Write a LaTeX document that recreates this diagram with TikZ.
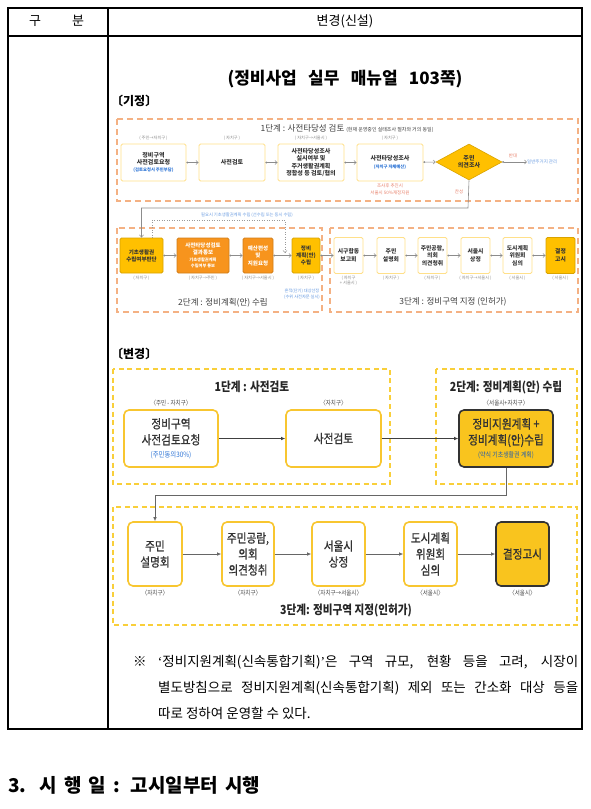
\documentclass[tikz,border=0pt]{standalone}
\usepackage{fontspec}
\setmainfont{Noto Sans CJK KR}
\newfontfamily\krc[FakeStretch=0.85]{Noto Sans CJK KR}
\newfontfamily\krcm[FakeStretch=0.85,FakeBold=0.9]{Noto Sans CJK KR}
\newfontfamily\latin{Liberation Serif}
\usetikzlibrary{shapes.geometric,arrows.meta,calc}
\definecolor{oldDash}{HTML}{F4B183}
\definecolor{oldBorder}{HTML}{FFE08A}
\definecolor{gold}{HTML}{FFC000}
\definecolor{orng}{HTML}{F7941D}
\definecolor{newDash}{HTML}{F9CF3A}
\definecolor{newBorder}{HTML}{F8C630}
\definecolor{newFill}{HTML}{F9C41E}
\definecolor{noteBlue}{HTML}{2E75D6}
\definecolor{labGray}{HTML}{8C8C8C}
\definecolor{redlab}{HTML}{E8806A}
\newcommand\fs[2]{\fontsize{#1}{#2}\selectfont}
\tikzset{
  oldstage/.style={draw=oldDash, line width=1.2pt, dash pattern=on 6pt off 4pt},
  obox/.style={draw=oldBorder, line width=0.9pt, rounded corners=1.5pt, fill=white, align=center, inner sep=0pt, font=\fs{6}{7.2}\bfseries, text=black!80},
  ofill/.style={obox, draw=#1!85!black, fill=#1},
  olab/.style={font=\fs{4.2}{5.2}, text=labGray, inner sep=0pt, align=center},
  ostagelab/.style={font=\fs{8.5}{10}, text=black!75, inner sep=0pt},
  oarr/.style={draw=black!45, line width=0.5pt, {Circle[length=1.8pt]}-{Straight Barb[length=2.2pt,width=4pt]}},
  newstage/.style={draw=newDash, line width=1.1pt, dash pattern=on 5pt off 3.5pt},
  nbox/.style={draw=newBorder, line width=1.6pt, rounded corners=5pt, fill=white, align=center, inner sep=0pt, font=\krcm\fs{12.5}{16}, text=black!80},
  nfill/.style={nbox, draw=black!80, fill=newFill},
  nlab/.style={font=\krc\fs{6.5}{8}, text=black!70, inner sep=0pt},
  ntitle/.style={font=\krc\bfseries\fs{12.5}{14}, text=black!85, inner sep=0pt},
  narr/.style={draw=black!75, line width=0.7pt, -{Latex[length=4pt,width=3.5pt]}},
  plain/.style={inner sep=0pt}
}
\begin{document}
\begin{tikzpicture}[x=1pt,y=-1pt]
\useasboundingbox[fill=white] (0,0) rectangle (590,809);

% ---------- table ----------
\draw[line width=1.1pt] (8,8) rectangle (582,729);
\draw[line width=1.1pt] (8,36) -- (582,36);
\draw[line width=1.1pt] (108,8) -- (108,729);
\node[plain, font=\fs{13}{15}] (h1) at (35,21) {구};
\node[plain, font=\fs{13}{15}] (h2) at (78,21) {분};
\node[plain, font=\fs{13}{15}] (h3) at (345,21) {변경(신설)};

\node[plain, font=\bfseries\fs{17}{19}] (title) at (345,79) {\makebox[235pt][s]{(정비사업 실무 매뉴얼 103쪽)}};
\node[plain, anchor=west, font=\bfseries\fs{12}{14}] (kj) at (111,101) {〔기정〕};

% ---------- old diagram: stage 1 ----------
\draw[oldstage] (117,119) rectangle (578,201);
\node[ostagelab] (s1) at (347,128) {1단계 : 사전타당성 검토 {\fs{5}{6}(현재 운영중인 실태조사 절차와 거의 동일)}};

\node[obox, minimum width=65pt, minimum height=37pt] (o1) at (153.5,162.5) {정비구역\\사전검토요청\\{\fs{4.3}{5.5}\color{noteBlue}(검토요청시 주민부담)}};
\node[obox, minimum width=66pt, minimum height=37pt] (o2) at (232,162.5) {사전검토};
\node[obox, minimum width=66pt, minimum height=37pt] (o3) at (311,162.5) {사전타당성조사\\실시여부 및\\주거생활권계획\\정합성 등 검토/협의};
\node[obox, minimum width=66pt, minimum height=37pt] (o4) at (390,162.5) {사전타당성조사\\{\fs{4.3}{5.5}\color{noteBlue}(자치구 자체예산)}};
\node[diamond, aspect=1.8, fill=gold, draw=gold!85!black, line width=0.6pt, minimum width=66pt, minimum height=36pt, inner sep=0pt, align=center, font=\fs{6}{7.2}\bfseries, text=black!80] (o5) at (469,162) {주민\\의견조사};
\node[plain, anchor=west, font=\fs{4.5}{5.5}, text=noteBlue!70] (o6) at (527,162) {일반주거지 관리};

\node[olab] (l1) at (153.5,138) {( 주민→자치구 )};
\node[olab] (l2) at (232,138) {( 자치구 )};
\node[olab] (l3) at (311,138) {( 자치구→서울시 )};
\node[olab] (l4) at (390,138) {( 자치구 )};
\node[olab, text=redlab, font=\fs{4.5}{7}] (l5) at (390,189.5) {조사후 추진시\\서울시 50\%재정지원};
\node[olab, text=redlab, font=\fs{4.5}{5.5}] (l6) at (513,156) {반대};
\node[olab, text=redlab, font=\fs{4.5}{5.5}] (l7) at (459,192) {찬성};

\draw[oarr] (o1) -- (o2);
\draw[oarr] (o2) -- (o3);
\draw[oarr] (o3) -- (o4);
\draw[oarr] (o4) -- (o5.west);
\draw[oarr] (o5.east) -- (o6.west);

% ---------- old diagram: stage 2 ----------
\draw[oldstage] (117,228) rectangle (322,312);
\node[ostagelab] (s2) at (223,303) {2단계 : 정비계획(안) 수립};

\node[ofill=gold, minimum width=43pt, minimum height=35pt, font=\fs{5.5}{7}\bfseries] (p1) at (141.5,255.5) {기초생활권\\수립여부판단};
\node[ofill=orng, minimum width=52pt, minimum height=35pt, font=\fs{5.5}{6.8}\bfseries, text=white] (p2) at (203,255.5) {사전타당성검토\\결과통보\\{\fs{4.2}{5.2}기초생활권계획}\\{\fs{4.2}{5.2}수립여부 통보}};
\node[ofill=orng, minimum width=30pt, minimum height=35pt, font=\fs{5.5}{7.5}\bfseries, text=white] (p3) at (258,255.5) {예산편성\\및\\지원요청};
\node[ofill=gold, minimum width=28pt, minimum height=35pt, font=\fs{5.5}{7}\bfseries] (p4) at (306,255.5) {정비\\계획(안)\\수립};

\node[olab] (m1) at (141.5,278) {( 자치구 )};
\node[olab] (m2) at (203,278) {( 자치구→주민 )};
\node[olab] (m3) at (258,278) {( 자치구→서울시 )};
\node[olab] (m4) at (306,278) {( 자치구 )};
\node[olab, text=noteBlue!75, font=\fs{4.2}{5.5}] (m5) at (302,294) {흔적(단기) 대상선정\\(수위 사전자문 실시)};

\coordinate (turn1) at (468,208);
\draw[draw=black!45, line width=0.6pt, -{Straight Barb[length=2.2pt,width=4pt]}] (o5.south) -- (turn1) -| (p1.north);

\coordinate (d1) at (152,220);
\coordinate (d2) at (285,220);
\coordinate (d3) at (285,253);
\draw[draw=black!40, line width=0.5pt, dotted, -{Straight Barb[length=2.2pt,width=4pt]}] (p1.north -| d1) -- (d1) -- (d2) -- (d3);
\node[olab, text=noteBlue!70, font=\fs{4.3}{5.5}] (dl) at (247,215) {필요시 기초생활권계획 수립 (선수립 또는 동시 수립)};

\draw[oarr] (p1) -- (p2);
\draw[oarr] (p2) -- (p3);
\draw[oarr] (p3) -- (p4);

% ---------- old diagram: stage 3 ----------
\draw[oldstage] (330,228) rectangle (578,312);
\node[ostagelab] (s3) at (453,302) {3단계 : 정비구역 지정 (인허가)};

\node[obox, minimum width=29pt, minimum height=36pt, font=\fs{5.8}{7.5}\bfseries] (q1) at (348.5,255.5) {시구합동\\보고회};
\node[obox, minimum width=28pt, minimum height=36pt, font=\fs{5.8}{7.5}\bfseries] (q2) at (391,255.5) {주민\\설명회};
\node[obox, minimum width=29pt, minimum height=36pt, font=\fs{5.8}{7.5}\bfseries] (q3) at (432.5,255.5) {주민공람,\\의회\\의견청취};
\node[obox, minimum width=29pt, minimum height=36pt, font=\fs{5.8}{7.5}\bfseries] (q4) at (475.5,255.5) {서울시\\상정};
\node[obox, minimum width=29pt, minimum height=36pt, font=\fs{5.8}{7.5}\bfseries] (q5) at (517.5,255.5) {도시계획\\위원회\\심의};
\node[ofill=gold, minimum width=29pt, minimum height=36pt, font=\fs{5.8}{7.5}\bfseries] (q6) at (560.5,255.5) {결정\\고시};

\node[olab] (r1) at (348.5,281) {( 자치구\\+ 서울시 )};
\node[olab] (r2) at (391,278) {( 자치구 )};
\node[olab] (r3) at (432.5,278) {( 자치구 )};
\node[olab] (r4) at (475.5,278) {( 자치구→서울시 )};
\node[olab] (r5) at (517.5,278) {( 서울시 )};
\node[olab] (r6) at (560.5,278) {( 서울시 )};

\draw[oarr] (p4) -- (q1);
\draw[oarr] (q1) -- (q2);
\draw[oarr] (q2) -- (q3);
\draw[oarr] (q3) -- (q4);
\draw[oarr] (q4) -- (q5);
\draw[oarr] (q5) -- (q6);

% ---------- new diagram ----------
\node[plain, anchor=west, font=\bfseries\fs{12}{14}] (bk) at (111,354) {〔변경〕};

\draw[newstage] (113,369) rectangle (390,484);
\draw[newstage] (436,369) rectangle (577,484);
\draw[newstage] (113,507) rectangle (577,625);

\node[ntitle] (t1) at (252,387) {1단계 : 사전검토};
\node[ntitle] (t2) at (506,387) {2단계: 정비계획(안) 수립};
\node[ntitle] (t3) at (346,610) {3단계: 정비구역 지정(인허가)};

\node[nlab] (u1) at (171,403) {〈주민 - 자치구〉};
\node[nlab] (u2) at (333.5,403) {〈자치구〉};
\node[nlab] (u3) at (506,403) {〈서울시+자치구〉};

\node[nbox, minimum width=94pt, minimum height=57pt] (A) at (171,438.5) {정비구역\\사전검토요청\\[-3pt]{\krc\fs{7.5}{9}\color{noteBlue}(주민동의30\%)}};
\node[nbox, minimum width=95pt, minimum height=57pt] (B) at (333.5,438.5) {사전검토};
\node[nfill, minimum width=94pt, minimum height=57pt] (C) at (506,438.5) {정비지원계획 +\\정비계획(안)수립\\[-3pt]{\krc\fs{7}{9}\color{noteBlue!80!black}(약식 기초생활권 계획)}};

\draw[narr] (A) -- (B);
\draw[narr] (B) -- (C);

\node[nbox, minimum width=54pt, minimum height=64pt] (D) at (155,554) {주민\\설명회};
\node[nbox, minimum width=52pt, minimum height=64pt] (E) at (248,554) {주민공람,\\의회\\의견청취};
\node[nbox, minimum width=53pt, minimum height=64pt] (F) at (338.5,554) {서울시\\상정};
\node[nbox, minimum width=53pt, minimum height=64pt] (G) at (430.5,554) {도시계획\\위원회\\심의};
\node[nfill, minimum width=53pt, minimum height=64pt] (H) at (522.5,554) {결정고시};

\node[nlab] (v1) at (155,593) {〈자치구〉};
\node[nlab] (v2) at (248,593) {〈자치구〉};
\node[nlab] (v3) at (338.5,593) {〈자치구→서울시〉};
\node[nlab] (v4) at (430.5,593) {〈서울시〉};
\node[nlab] (v5) at (522.5,593) {〈서울시〉};

\coordinate (turn2) at (506,495);
\draw[narr, draw=black!60] (C.south) -- (turn2) -| (D.north);
\draw[narr, draw=black!60] (D) -- (E);
\draw[narr, draw=black!60] (E) -- (F);
\draw[narr, draw=black!60] (F) -- (G);
\draw[narr, draw=black!60] (G) -- (H);

% ---------- note ----------
\node[plain, anchor=west, font=\fs{13.5}{16}] (n1) at (133,662) {\makebox[445pt][s]{※ {\latin‘}정비지원계획(신속통합기획){\latin’}은 구역 규모, 현황 등을 고려, 시장이}};
\node[plain, anchor=west, font=\fs{13.5}{16}] (n2) at (158,688) {\makebox[420pt][s]{별도방침으로 정비지원계획(신속통합기획) 제외 또는 간소화 대상 등을}};
\node[plain, anchor=west, font=\fs{13.5}{16}] (n3) at (158,713) {따로 정하여 운영할 수 있다.};

% ---------- footer ----------
\node[plain, anchor=west, font=\bfseries\fs{19}{21}] (ft) at (8,785) {\makebox[252pt][s]{3. 시 행 일 : 고시일부터 시행}};
\end{tikzpicture}
\end{document}
